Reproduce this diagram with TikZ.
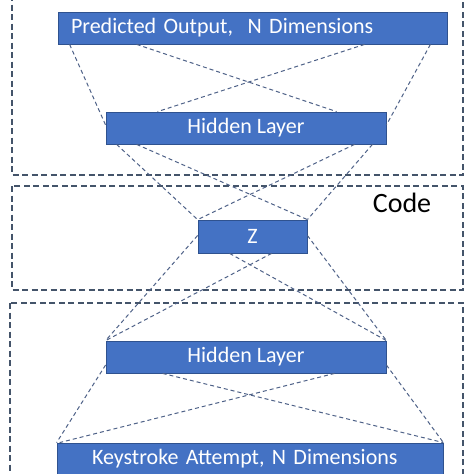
\documentclass[tikz,border=0pt]{standalone}
\usepackage{fontspec}
\setmainfont{Carlito}
\usetikzlibrary{calc}
\definecolor{boxfill}{HTML}{4472C4}
\definecolor{boxline}{HTML}{2F528F}
\definecolor{framecol}{HTML}{44546A}
\definecolor{conncol}{HTML}{4F6288}
\tikzset{
  layer/.style={draw=boxline, line width=0.8pt, fill=boxfill, text=white, font=\fontsize{22}{26}\selectfont, inner sep=0pt},
  frame/.style={draw=framecol, line width=1.6pt, dash pattern=on 6pt off 3.5pt},
  conn/.style={draw=conncol, line width=1pt, dash pattern=on 4pt off 3pt},
}
\begin{document}
\begin{tikzpicture}[x=1pt,y=-1pt]
\clip (0,0) rectangle (474,474);
\fill[white] (0,0) rectangle (474,474);
% frames
\draw[frame] (12,-5) rectangle (463,175);
\draw[frame] (12,186) rectangle (463,290);
\draw[frame] (10,303) rectangle (463,490);
% layers
\node[layer, minimum width=389pt, minimum height=32pt, text width=363pt, inner xsep=13pt, align=left] (po) at (252.5,28) {Predicted Output,\ \ N Dimensions};
\node[layer, minimum width=280pt, minimum height=32pt] (hl1) at (246,128) {Hidden Layer};
\node[layer, minimum width=109pt, minimum height=33pt] (z) at (252.5,236.5) {Z};
\node[layer, minimum width=280pt, minimum height=32pt] (hl2) at (246,357) {Hidden Layer};
\node[layer, minimum width=386pt, minimum height=32pt, text width=316pt, inner xsep=35pt, align=left] (ks) at (250,459) {Keystroke Attempt, N Dimensions};
\node[font=\fontsize{28}{32}\selectfont, text=black, inner sep=0pt] (code) at (402,203) {Code};
% connectors: output -> hidden
\draw[conn] ($(po.south west)+(12,0)$) -- ($(hl1.west)+(0,-3)$);
\draw[conn] ($(po.south west)+(79,0)$) -- ($(hl1.north west)+(231,0)$);
\draw[conn] ($(po.south west)+(307,0)$) -- ($(hl1.north west)+(52,0)$);
\draw[conn] ($(po.south east)+(-17,0)$) -- ($(hl1.east)+(0,-3)$);
% hidden -> z
\draw[conn] ($(hl1.south west)+(11,0)$) -- (z.north west);
\draw[conn] ($(hl1.south west)+(31,0)$) -- (z.north east);
\draw[conn] ($(hl1.south west)+(249,0)$) -- (z.north west);
\draw[conn] ($(hl1.south east)+(-14,0)$) -- (z.north east);
% z -> hidden
\draw[conn] ($(z.west)+(0,-1)$) -- (hl2.north west);
\draw[conn] ($(z.south west)+(32,0)$) -- (hl2.north east);
\draw[conn] ($(z.south west)+(74,0)$) -- (hl2.north west);
\draw[conn] ($(z.east)+(0,-1)$) -- (hl2.north east);
% hidden -> input
\draw[conn] ($(hl2.west)+(0,8)$) -- (ks.north west);
\draw[conn] ($(hl2.south west)+(57,0)$) -- (ks.north east);
\draw[conn] ($(hl2.south west)+(229,0)$) -- ($(ks.north west)+(3,0)$);
\draw[conn] ($(hl2.east)+(0,8)$) -- (ks.north east);
\end{tikzpicture}
\end{document}
